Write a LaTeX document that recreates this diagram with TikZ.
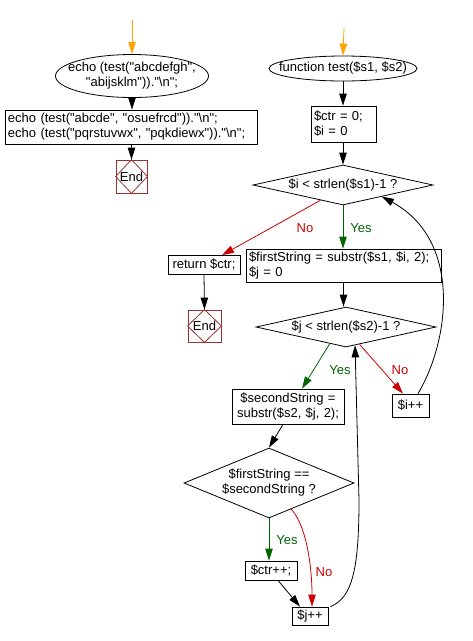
\documentclass[tikz,border=0pt]{standalone}
\usepackage{fontspec}
\setmainfont{Liberation Sans}[Ligatures=TeXOff]
\usetikzlibrary{shapes.geometric,arrows.meta,calc}
\definecolor{orng}{RGB}{255,165,0}
\definecolor{yesg}{RGB}{0,100,0}
\definecolor{nor}{RGB}{204,0,0}
\definecolor{endr}{RGB}{153,51,51}
\begin{document}
\begin{tikzpicture}[x=1pt,y=-1pt,
  font=\fontsize{13}{15}\selectfont,
  every node/.style={inner sep=0pt},
  line width=0.8pt,
  >={Triangle[length=12pt,width=7.5pt]},
  conn/.style={draw=black,->},
  startarr/.style={draw=orng,->},
  yesarr/.style={draw=yesg,->},
  noarr/.style={draw=nor,->},
  yeslbl/.style={text=yesg},
  nolbl/.style={text=nor},
  ovalbox/.style={ellipse,draw},
  decbox/.style={diamond,draw},
  procbox/.style={rectangle,draw,inner xsep=3pt},
  endbox/.style={rectangle,draw=endr,minimum width=31pt,minimum height=33pt},
]
\useasboundingbox (0,0) rectangle (473,641);

% ---------- left column ----------
\coordinate (s1) at (132,20);
\node[ovalbox,minimum width=153pt,minimum height=43pt] (e1) at (132,76) {};
\node[align=center] (te1) at (e1) {echo (test("abcdefgh",\\"abijsklm"))."\textbackslash n";};
\node[procbox,minimum height=34pt,text width=246pt,align=left] (r1) at (131,127)
  {echo (test("abcde", "osuefrcd"))."\textbackslash n";\\echo (test("pqrstuvwx", "pqkdiewx"))."\textbackslash n";};
\node[endbox] (end1) at (131.5,176.5) {};
\draw[endr] (end1.north) -- (end1.east) -- (end1.south) -- (end1.west) -- cycle;
\node (tend1) at (end1) {End};

\draw[startarr] (s1) -- (e1.north);
\draw[conn] (e1.south) -- (e1.south |- r1.north);
\draw[conn] (r1.south -| end1.north) -- (end1.north);

% ---------- right column ----------
\coordinate (s2) at (344,28);
\node[ovalbox,minimum width=148pt,minimum height=25pt] (e2) at (343,68.5) {};
\node (te2) at (e2) {function test(\$s1, \$s2)};
\node[procbox,minimum height=36pt,text width=59pt,align=left] (r2) at (343.5,124) {\$ctr = 0;\\\$i = 0};
\node[decbox,minimum width=180pt,minimum height=40pt] (d1) at (343,185) {};
\node (td1) at (d1) {\$i < strlen(\$s1)-1 ?};
\node[procbox,minimum height=33pt,text width=189pt,align=left] (r3) at (343.5,265.5)
  {\$firstString = substr(\$s1, \$i, 2);\\\$j = 0};
\node[procbox,minimum width=72pt,minimum height=19pt] (ret) at (204,265) {return \$ctr;};
\node[endbox,minimum width=33pt,minimum height=32pt] (end2) at (204.5,326) {};
\draw[endr] (end2.north) -- (end2.east) -- (end2.south) -- (end2.west) -- cycle;
\node (tend2) at (end2) {End};
\node[decbox,minimum width=180pt,minimum height=40pt] (d2) at (346,327) {};
\node (td2) at (d2) {\$j < strlen(\$s2)-1 ?};
\node[procbox,minimum width=37pt,minimum height=23pt] (iinc) at (410.5,405.5) {\$i++};
\node[procbox,minimum height=35pt,text width=106pt,align=center] (r4) at (288,406.5)
  {\$secondString =\\substr(\$s2, \$j, 2);};
\node[decbox,minimum width=170pt,minimum height=70pt] (d3) at (269,483) {};
\node[align=center] (td3) at (d3) {\$firstString ==\\\$secondString ?};
\node[procbox,minimum width=52pt,minimum height=19pt] (ctr) at (271,570.5) {\$ctr++;};
\node[procbox,minimum width=36pt,minimum height=18pt] (jinc) at (310,616) {\$j++};

\draw[startarr] (s2) -- (e2.north);
\draw[conn] (e2.south) -- (e2.south |- r2.north);
\draw[conn] (r2.south -| d1.north) -- (d1.north);
\draw[yesarr] (d1.south) -- (d1.south |- r3.north);
\node[yeslbl] (y1) at (361,228) {Yes};
\draw[noarr] ($(d1.west)!0.75!(d1.south)$) -- ($(ret.north)+(18,0)$);
\node[nolbl] (n1) at (305,228) {No};
\draw[conn] (ret.south) -- (end2.north);
\draw[conn] (r3.south) -- (r3.south |- d2.north);
\draw[yesarr] ($(d2.west)!0.82!(d2.south)$) -- ($(r4.north)+(14,0)$);
\node[yeslbl] (y2) at (340,370) {Yes};
\draw[noarr] ($(d2.south)!0.15!(d2.east)$) -- ($(iinc.north)+(-7.5,0)$);
\node[nolbl] (n2) at (400,370) {No};
\draw[conn] ($(iinc.north)+(7.5,0)$) .. controls (450,340) and (462,240) .. ($(d1.south)!0.43!(d1.east)$);
\draw[conn] ($(r4.south)+(-5,0)$) -- (d3.north);
\draw[yesarr] (d3.south) -- (d3.south |- ctr.north);
\node[yeslbl] (y3) at (287,540) {Yes};
\draw[noarr] ($(d3.south)!0.26!(d3.east)$) .. controls (306,525) and (312,565) .. ($(jinc.north)+(2,0)$);
\node[nolbl] (n3) at (324,572) {No};
\draw[conn] ($(ctr.south)+(7,0)$) -- ($(jinc.north)+(-10,0)$);
\draw[conn] ($(jinc.north east)+(2,0)$) .. controls (352,598) and (359,570) .. (359,500) -- ($(d2.south)!0.1!(d2.east)$);
\end{tikzpicture}
\end{document}
